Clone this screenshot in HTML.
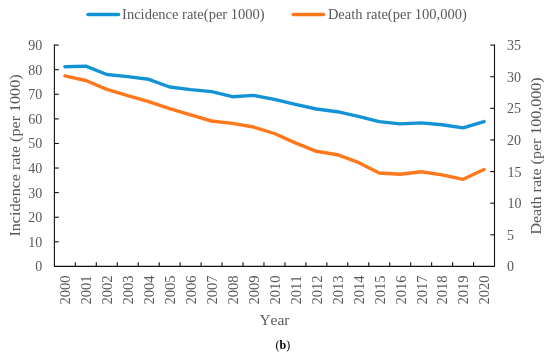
<!DOCTYPE html><html><head><meta charset="utf-8"><title>chart</title><style>html,body{margin:0;padding:0;background:#fff}svg{display:block}text{font-kerning:none;font-family:"Liberation Serif","Times New Roman",serif;fill:#595959}</style></head><body>
<svg width="550" height="357" viewBox="0 0 550 357">
<rect width="550" height="357" fill="#fff"/>
<line x1="88" y1="14.5" x2="118.6" y2="14.5" stroke="#1393D5" stroke-width="3.4" stroke-linecap="round"/>
<text x="122.1" y="18.9" font-size="14.5">Incidence rate(per 1000)</text>
<line x1="293.2" y1="14.5" x2="323.6" y2="14.5" stroke="#FF781C" stroke-width="3.4" stroke-linecap="round"/>
<text x="327.9" y="18.9" font-size="14.5">Death rate(per 100,000)</text>
<g stroke="#111" stroke-width="1.1" fill="none">
<path d="M54.4,44.6 V266.4 H494.5 V44.6"/>
<path d="M54.4,241.81 h4.4"/>
<path d="M54.4,217.22 h4.4"/>
<path d="M54.4,192.63 h4.4"/>
<path d="M54.4,168.04 h4.4"/>
<path d="M54.4,143.46 h4.4"/>
<path d="M54.4,118.87 h4.4"/>
<path d="M54.4,94.28 h4.4"/>
<path d="M54.4,69.69 h4.4"/>
<path d="M54.4,45.10 h4.4"/>
<path d="M494.5,234.79 h-4.2"/>
<path d="M494.5,203.17 h-4.2"/>
<path d="M494.5,171.56 h-4.2"/>
<path d="M494.5,139.94 h-4.2"/>
<path d="M494.5,108.33 h-4.2"/>
<path d="M494.5,76.71 h-4.2"/>
<path d="M494.5,45.10 h-4.2"/>
<path d="M75.36,266.4 v-4.2"/>
<path d="M96.31,266.4 v-4.2"/>
<path d="M117.27,266.4 v-4.2"/>
<path d="M138.23,266.4 v-4.2"/>
<path d="M159.19,266.4 v-4.2"/>
<path d="M180.14,266.4 v-4.2"/>
<path d="M201.10,266.4 v-4.2"/>
<path d="M222.06,266.4 v-4.2"/>
<path d="M243.01,266.4 v-4.2"/>
<path d="M263.97,266.4 v-4.2"/>
<path d="M284.93,266.4 v-4.2"/>
<path d="M305.89,266.4 v-4.2"/>
<path d="M326.84,266.4 v-4.2"/>
<path d="M347.80,266.4 v-4.2"/>
<path d="M368.76,266.4 v-4.2"/>
<path d="M389.71,266.4 v-4.2"/>
<path d="M410.67,266.4 v-4.2"/>
<path d="M431.63,266.4 v-4.2"/>
<path d="M452.59,266.4 v-4.2"/>
<path d="M473.54,266.4 v-4.2"/>
</g>
<text x="42.3" y="271.3" font-size="14" text-anchor="end">0</text>
<text x="42.3" y="246.7" font-size="14" text-anchor="end">10</text>
<text x="42.3" y="222.1" font-size="14" text-anchor="end">20</text>
<text x="42.3" y="197.5" font-size="14" text-anchor="end">30</text>
<text x="42.3" y="172.9" font-size="14" text-anchor="end">40</text>
<text x="42.3" y="148.4" font-size="14" text-anchor="end">50</text>
<text x="42.3" y="123.8" font-size="14" text-anchor="end">60</text>
<text x="42.3" y="99.2" font-size="14" text-anchor="end">70</text>
<text x="42.3" y="74.6" font-size="14" text-anchor="end">80</text>
<text x="42.3" y="50.0" font-size="14" text-anchor="end">90</text>
<text x="506.9" y="271.3" font-size="14">0</text>
<text x="506.9" y="239.7" font-size="14">5</text>
<text x="507.4" y="208.1" font-size="14">10</text>
<text x="507.4" y="176.5" font-size="14">15</text>
<text x="506.9" y="144.8" font-size="14">20</text>
<text x="506.9" y="113.2" font-size="14">25</text>
<text x="506.9" y="81.6" font-size="14">30</text>
<text x="506.9" y="50.0" font-size="14">35</text>
<text transform="translate(70.2,275.6) rotate(-90)" font-size="14.5" text-anchor="end">2000</text>
<text transform="translate(91.1,275.6) rotate(-90)" font-size="14.5" text-anchor="end">2001</text>
<text transform="translate(112.1,275.6) rotate(-90)" font-size="14.5" text-anchor="end">2002</text>
<text transform="translate(133.1,275.6) rotate(-90)" font-size="14.5" text-anchor="end">2003</text>
<text transform="translate(154.0,275.6) rotate(-90)" font-size="14.5" text-anchor="end">2004</text>
<text transform="translate(175.0,275.6) rotate(-90)" font-size="14.5" text-anchor="end">2005</text>
<text transform="translate(195.9,275.6) rotate(-90)" font-size="14.5" text-anchor="end">2006</text>
<text transform="translate(216.9,275.6) rotate(-90)" font-size="14.5" text-anchor="end">2007</text>
<text transform="translate(237.8,275.6) rotate(-90)" font-size="14.5" text-anchor="end">2008</text>
<text transform="translate(258.8,275.6) rotate(-90)" font-size="14.5" text-anchor="end">2009</text>
<text transform="translate(279.8,275.6) rotate(-90)" font-size="14.5" text-anchor="end">2010</text>
<text transform="translate(300.7,275.6) rotate(-90)" font-size="14.5" text-anchor="end">2011</text>
<text transform="translate(321.7,275.6) rotate(-90)" font-size="14.5" text-anchor="end">2012</text>
<text transform="translate(342.6,275.6) rotate(-90)" font-size="14.5" text-anchor="end">2013</text>
<text transform="translate(363.6,275.6) rotate(-90)" font-size="14.5" text-anchor="end">2014</text>
<text transform="translate(384.5,275.6) rotate(-90)" font-size="14.5" text-anchor="end">2015</text>
<text transform="translate(405.5,275.6) rotate(-90)" font-size="14.5" text-anchor="end">2016</text>
<text transform="translate(426.5,275.6) rotate(-90)" font-size="14.5" text-anchor="end">2017</text>
<text transform="translate(447.4,275.6) rotate(-90)" font-size="14.5" text-anchor="end">2018</text>
<text transform="translate(468.4,275.6) rotate(-90)" font-size="14.5" text-anchor="end">2019</text>
<text transform="translate(489.3,275.6) rotate(-90)" font-size="14.5" text-anchor="end">2020</text>
<text transform="translate(19.6,155.5) rotate(-90) scale(1.052,1)" font-size="15.3" text-anchor="middle">Incidence rate (per 1000)</text>
<text transform="translate(541.2,156.0) rotate(-90) scale(1.046,1)" font-size="15.3" text-anchor="middle">Death rate (per 100,000)</text>
<text x="274.4" y="324.8" font-size="15.4" text-anchor="middle">Year</text>
<text x="282.8" y="349" font-size="12" text-anchor="middle" style="fill:#000">(<tspan font-weight="bold">b</tspan>)</text>
<polyline points="64.9,75.9 85.8,80.5 106.8,89.4 127.8,95.7 148.7,101.7 169.7,108.7 190.6,114.8 211.6,121.0 232.5,123.4 253.5,127.0 274.4,133.5 295.4,142.9 316.4,151.3 337.3,154.7 358.3,162.4 379.2,173.0 400.2,174.2 421.2,171.7 442.1,174.9 463.1,179.3 484.0,169.5" fill="none" stroke="#FF781C" stroke-width="3.4" stroke-linecap="round" stroke-linejoin="round"/>
<polyline points="64.9,66.8 85.8,66.1 106.8,74.5 127.8,76.6 148.7,79.3 169.7,87.0 190.6,89.6 211.6,91.6 232.5,96.7 253.5,95.4 274.4,99.4 295.4,104.4 316.4,109.0 337.3,111.7 358.3,116.4 379.2,121.6 400.2,123.9 421.2,122.9 442.1,124.7 463.1,127.9 484.0,121.6" fill="none" stroke="#1393D5" stroke-width="3.4" stroke-linecap="round" stroke-linejoin="round"/>
</svg></body></html>
